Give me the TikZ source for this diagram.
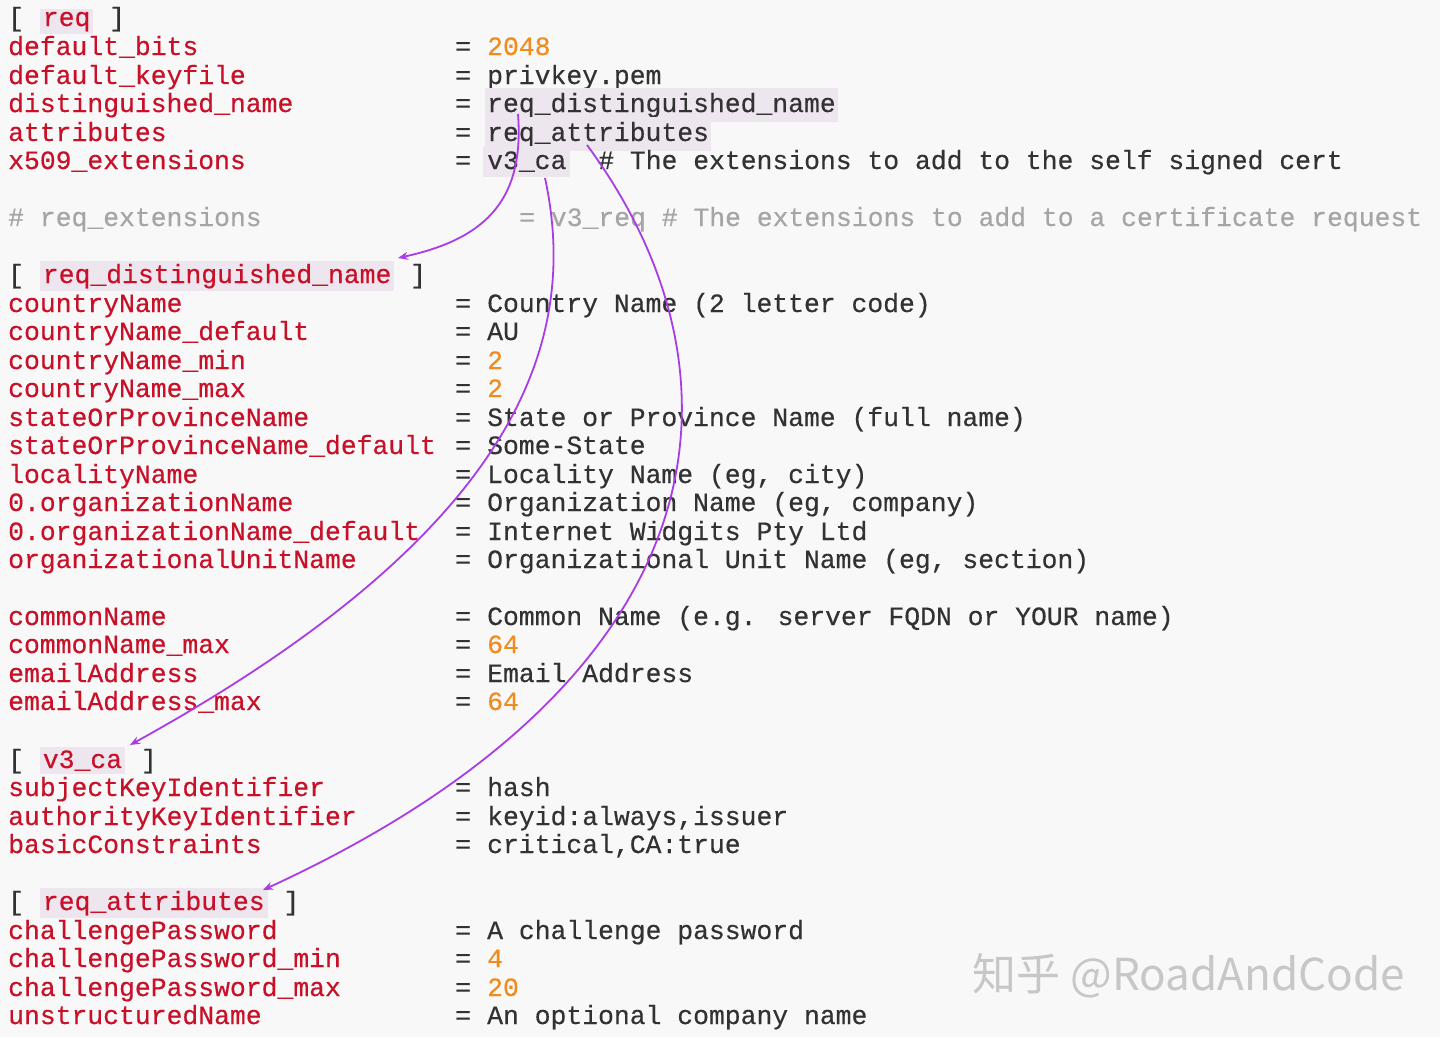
\documentclass[tikz,border=0pt]{standalone}
\usepackage{fontspec}
\newfontfamily\code{Liberation Mono}[FakeBold=0.4]
\newfontfamily\cjk{Noto Sans CJK SC}
\definecolor{keyc}{RGB}{200,16,40}
\definecolor{numc}{RGB}{240,140,30}
\definecolor{txtc}{RGB}{50,50,50}
\definecolor{cmtc}{RGB}{165,165,165}
\definecolor{hlc}{RGB}{238,230,238}
\definecolor{arrc}{RGB}{170,60,230}
\definecolor{bgc}{RGB}{248,248,248}
\usetikzlibrary{arrows.meta}
\tikzset{
  t/.style={anchor=base west,inner sep=0pt,font=\code\fontsize{26.4}{28}\selectfont,text=txtc},
  k/.style={t,text=keyc},
  hl/.style={fill=hlc,inner xsep=2pt,inner ysep=5pt},
  arr/.style={draw=arrc,line width=1.8pt,-{Stealth[length=10pt,width=8pt]}}
}
\newcommand{\kv}[4]{\node[k] (k#1) at (8,#2+9) {#3}; \node[t] (e#1) at (455,#2+9) {=}; \node[t] (v#1) at (487,#2+9) {#4};}
\begin{document}
\begin{tikzpicture}[x=1pt,y=-1pt]
\fill[bgc] (0,0) rectangle (1440,1037);
\useasboundingbox (0,0) rectangle (1440,1037);
\node[t] (h1) at (8,26) {[ \textcolor{keyc}{\colorbox{hlc}{req}} ]};
\kv{1}{46}{default\_bits}{\textcolor{numc}{2048}}
\kv{2}{75}{default\_keyfile}{privkey.pem}
\kv{3}{103}{distinguished\_name}{}
\node[t,hl] (vdn) at (485,112) {req\_distinguished\_name};
\kv{4}{132}{attributes}{}
\node[t,hl] (vat) at (485,141) {req\_attributes};
\kv{5}{160}{x509\_extensions}{}
\node[t,hl,inner xsep=4pt] (vca) at (483,169) {v3\_ca};
\node[t] (c5) at (598,169) {\# The extensions to add to the self signed cert};
\node[t,text=cmtc] (cm) at (8,226) {\# req\_extensions};
\node[t,text=cmtc] (cm2) at (519,226) {= v3\_req \# The extensions to add to a certificate request};
\node[t] (h2) at (8,283) {[ \textcolor{keyc}{\colorbox{hlc}{req\_distinguished\_name}} ]};
\kv{6}{303}{countryName}{Country Name (2 letter code)}
\kv{7}{331}{countryName\_default}{AU}
\kv{8}{360}{countryName\_min}{\textcolor{numc}{2}}
\kv{9}{388}{countryName\_max}{\textcolor{numc}{2}}
\kv{10}{417}{stateOrProvinceName}{State or Province Name (full name)}
\kv{11}{445}{stateOrProvinceName\_default}{Some-State}
\kv{12}{474}{localityName}{Locality Name (eg, city)}
\kv{13}{502}{0.organizationName}{Organization Name (eg, company)}
\kv{14}{531}{0.organizationName\_default}{Internet Widgits Pty Ltd}
\kv{15}{559}{organizationalUnitName}{Organizational Unit Name (eg, section)}
\kv{16}{616}{commonName}{Common Name (e.g. server FQDN or YOUR name)}
\kv{17}{644}{commonName\_max}{\textcolor{numc}{64}}
\kv{18}{673}{emailAddress}{Email Address}
\kv{19}{701}{emailAddress\_max}{\textcolor{numc}{64}}
\node[t] (h3) at (8,768) {[ \textcolor{keyc}{\colorbox{hlc}{v3\_ca}} ]};
\kv{20}{787}{subjectKeyIdentifier}{hash}
\kv{21}{816}{authorityKeyIdentifier}{keyid:always,issuer}
\kv{22}{844}{basicConstraints}{critical,CA:true}
\node[t] (h4) at (8,910) {[ \textcolor{keyc}{\colorbox{hlc}{req\_attributes}} ]};
\kv{23}{930}{challengePassword}{A challenge password}
\kv{24}{958}{challengePassword\_min}{\textcolor{numc}{4}}
\kv{25}{987}{challengePassword\_max}{\textcolor{numc}{20}}
\kv{26}{1015}{unstructuredName}{An optional company name}
\node[anchor=east,inner sep=0pt,text=black!22,font=\fontsize{44}{48}\selectfont] (wm) at (1405,976) {\cjk 知乎 @RoadAndCode};
\coordinate (s1) at (518,114); \coordinate (t1) at (398,258);
\coordinate (s2) at (545,178); \coordinate (t2) at (130,745);
\coordinate (s3) at (587,145); \coordinate (t3) at (263,890);
\draw[arr] (s1) .. controls (525,205) and (480,240) .. (t1);
\draw[arr] (s2) .. controls (580,340) and (520,530) .. (t2);
\draw[arr] (s3) .. controls (760,380) and (720,680) .. (t3);
\end{tikzpicture}
\end{document}
